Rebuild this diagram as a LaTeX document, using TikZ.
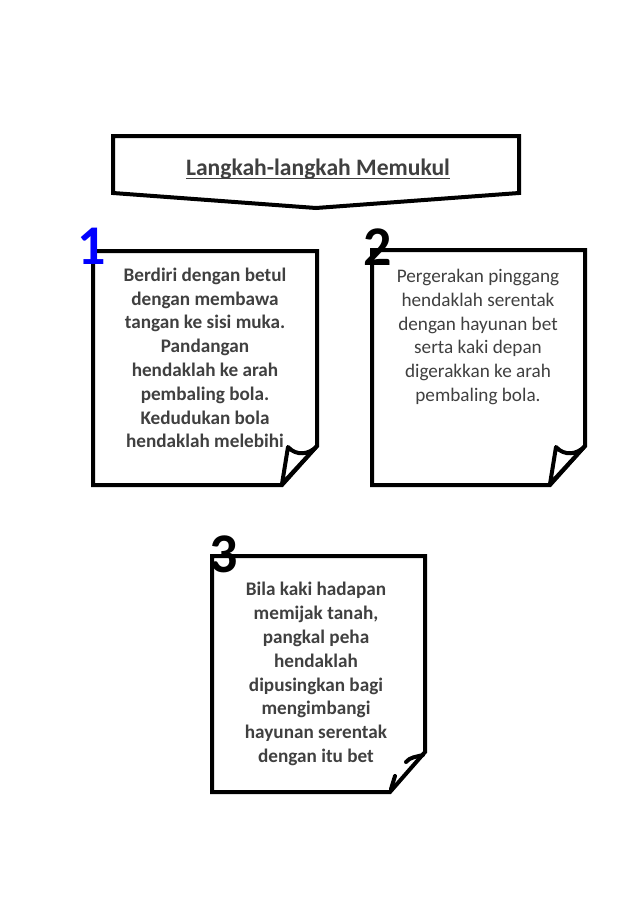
\documentclass[tikz,border=0pt]{standalone}
\usepackage{fontspec}
\setmainfont{Carlito}
\definecolor{txtgray}{HTML}{404040}
\definecolor{numblue}{HTML}{0000FF}
\tikzset{
  frame/.style={draw=black, line width=4pt, line join=miter, fill=white},
  foldline/.style={draw=black, line width=4pt, line join=round, line cap=round, fill=white},
  bodytext/.style={text=txtgray, align=center, inner sep=0pt, font=\fontsize{19.2}{23.8}\selectfont\bfseries},
  bodytextreg/.style={text=txtgray, align=center, inner sep=0pt, font=\fontsize{19.2}{23.8}\selectfont},
  numlabel/.style={inner sep=0pt, font=\fontsize{56}{56}\selectfont\bfseries},
}
\begin{document}
\begin{tikzpicture}[x=1pt,y=-1pt]
\useasboundingbox (0,0) rectangle (638,902);
% title shape
\path[frame] (113,136) -- (519,136) -- (519,193) -- (316,208) -- (113,193) -- cycle;
\node[text=txtgray, inner sep=0pt, font=\fontsize{23.6}{26}\selectfont\bfseries] (title) at (318,169) {Langkah-langkah Memukul};
\draw[txtgray, line width=1.4pt] ([yshift=-3pt]title.base west) -- ([yshift=-3pt]title.base east);
% box 1
\path[frame] (93,251) -- (317,251) -- (317,446) -- (282,485) -- (93,485) -- cycle;
\path[foldline] (282,484) -- (288,447) .. controls (296,456) and (309,455) .. (317,446) -- cycle;
\node[numlabel, text=numblue] (n1) at (92,246) {1};
\node[bodytext] (t1) at (205,358) {Berdiri dengan betul\\dengan membawa\\tangan ke sisi muka.\\Pandangan\\hendaklah ke arah\\pembaling bola.\\Kedudukan bola\\hendaklah melebihi};
% box 2
\path[frame] (372,250) -- (585,250) -- (585,446) -- (550,485) -- (372,485) -- cycle;
\path[foldline] (550,484) -- (556,447) .. controls (564,456) and (577,455) .. (585,446) -- cycle;
\node[numlabel] (n2) at (378,247) {2};
\node[bodytextreg] (t2) at (478,337) {Pergerakan pinggang\\hendaklah serentak\\dengan hayunan bet\\serta kaki depan\\digerakkan ke arah\\pembaling bola.};
% box 3
\path[frame] (212,556) -- (425,556) -- (425,752) -- (390,792) -- (212,792) -- cycle;
\draw[line width=4pt, line cap=round] (391,789) -- (395,776);
\draw[line width=4pt, line cap=round] (406,762) .. controls (410,757) and (416,757) .. (423,755);
\node[numlabel] (n3) at (224,554) {3};
\node[bodytext] (t3) at (316,674) {Bila kaki hadapan\\memijak tanah,\\pangkal peha\\hendaklah\\dipusingkan bagi\\mengimbangi\\hayunan serentak\\dengan itu bet};
\end{tikzpicture}
\end{document}
